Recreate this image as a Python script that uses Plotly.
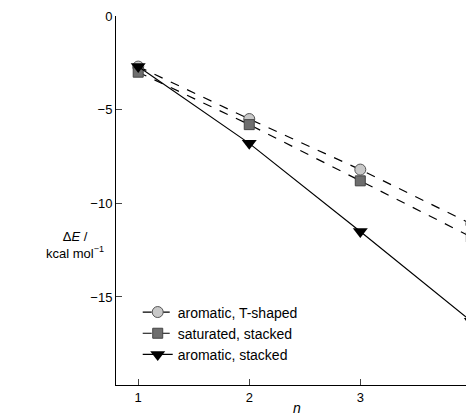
import plotly.graph_objects as go

n = [1, 2, 3, 4]
aromatic_t = [-2.7, -5.5, -8.2, -11.1]
saturated_stacked = [-3.0, -5.8, -8.8, -11.8]
aromatic_stacked = [-2.7, -6.8, -11.5, -16.3]

fig = go.Figure()
fig.add_trace(go.Scatter(x=n, y=aromatic_t, name="aromatic, T-shaped", mode="lines+markers",
                         line=dict(color="black", width=1.2, dash="dash"),
                         marker=dict(symbol="circle", size=11, color="#c8c8c8", line=dict(color="#555", width=1))))
fig.add_trace(go.Scatter(x=n, y=saturated_stacked, name="saturated, stacked", mode="lines+markers",
                         line=dict(color="black", width=1.2, dash="dash"),
                         marker=dict(symbol="square", size=10, color="#6e6e6e", line=dict(color="#444", width=1))))
fig.add_trace(go.Scatter(x=n, y=aromatic_stacked, name="aromatic, stacked", mode="lines+markers",
                         line=dict(color="black", width=1.2),
                         marker=dict(symbol="triangle-down", size=13, color="black")))
fig.update_traces(cliponaxis=False)

fig.update_layout(
    width=474, height=419, plot_bgcolor="white", paper_bgcolor="white",
    margin=dict(l=108, r=4, t=8, b=42),
    font=dict(family="Liberation Sans, Arial", size=13, color="black"),
    legend=dict(x=0.06, y=0.24, xanchor="left", yanchor="top", bgcolor="rgba(0,0,0,0)",
                font=dict(size=14), tracegroupgap=0),
    xaxis=dict(range=[0.8, 4.06], tickvals=n, ticks="inside", ticklen=6, showgrid=False,
               zeroline=False, showline=True, linecolor="black", linewidth=1, automargin=False),
    yaxis=dict(range=[-19.7, 0], tickvals=[0, -5, -10, -15], ticks="inside", ticklen=6,
               showgrid=False, zeroline=False, showline=True, linecolor="black", linewidth=1,
               automargin=False),
    annotations=[
        dict(text="Δ<i>E</i> /<br>kcal mol<sup>−1</sup>", x=-0.2, y=0.38, xref="paper", yref="paper",
             showarrow=False, font=dict(size=13), align="center"),
        dict(text="<i>n</i>", x=0.5, y=-0.035, xref="paper", yref="paper", yanchor="top",
             showarrow=False, font=dict(size=14)),
        dict(text="<b>Figure 6.</b>  Interaction energies Δ<i>E</i> [B2PLYP-D/QZV3P(1/2CP)] as a",
             x=-0.29, y=-0.095, xref="paper", yref="paper", xanchor="left", yanchor="top",
             showarrow=False, font=dict(size=12)),
    ],
)
fig.write_html("out.html")
